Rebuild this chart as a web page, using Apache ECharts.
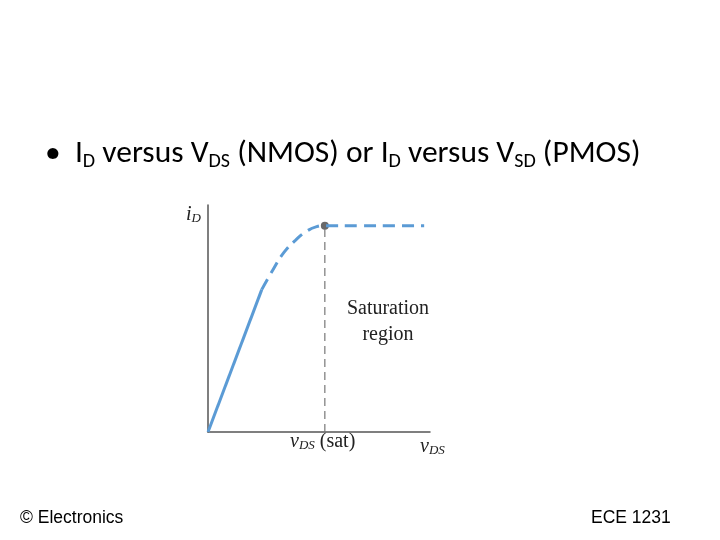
<!DOCTYPE html>
<html><head><meta charset="utf-8">
<script src="https://cdn.jsdelivr.net/npm/echarts@6/dist/echarts.min.js"></script>
<style>html,body{margin:0;background:#fff}#c{width:720px;height:540px}</style>
</head><body><div id="c"></div>
<script>
// x in units of vDS(sat), y in units of iD(sat)
const solidCurve = [[0,0],[0.46,0.69]];
const dashedCurve = [[0.46,0.69],[0.55,0.78],[0.65,0.87],[0.75,0.93],[0.85,0.975],[0.93,0.995],[1,1],[1.3,1],[1.6,1],[1.85,1]];
const satPoint = [[1,1]];
const satLine = [[1,0],[1,1]];

const chart = echarts.init(document.getElementById('c'));
const blue = '#5b9bd5';
const serif = 'Liberation Serif, serif';
chart.setOption({
  animation:false,
  grid:{left:208,top:205,right:290,bottom:108},
  xAxis:{type:'value',min:0,max:1.9,axisLine:{lineStyle:{color:'#555',width:1.5}},axisTick:{show:false},axisLabel:{show:false},splitLine:{show:false}},
  yAxis:{type:'value',min:0,max:1.1,axisLine:{show:true,lineStyle:{color:'#555',width:1.5}},axisTick:{show:false},axisLabel:{show:false},splitLine:{show:false}},
  series:[
    {type:'line',data:satLine,symbol:'none',lineStyle:{color:'#777',width:1.2,type:[8,5]}},
    {type:'line',data:solidCurve,symbol:'none',lineStyle:{color:blue,width:3}},
    {type:'line',data:dashedCurve,symbol:'none',smooth:true,lineStyle:{color:blue,width:3,type:[12,7]}},
    {type:'scatter',data:satPoint,symbolSize:8,itemStyle:{color:'#444'}}
  ],
  graphic:[
    {type:'text',left:45,top:138,style:{rich:{n:{fontSize:31.5,fontFamily:'Carlito, Liberation Sans, sans-serif',fill:'#000'},s:{fontSize:20,fontFamily:'Carlito, Liberation Sans, sans-serif',fill:'#000',padding:[15,0,0,0]}},
      text:'{n|•  I}{s|D}{n| versus V}{s|DS}{n| (NMOS) or I}{s|D}{n| versus V}{s|SD}{n| (PMOS)}'}},
    {type:'text',left:186,top:205,style:{rich:{a:{fontSize:20,fontStyle:'italic',fontFamily:serif,fill:'#222'},b:{fontSize:13,fontStyle:'italic',fontFamily:serif,fill:'#222',padding:[8,0,0,0]}},text:'{a|i}{b|D}'}},
    {type:'text',left:290,top:432,style:{rich:{a:{fontSize:20,fontStyle:'italic',fontFamily:serif,fill:'#222'},b:{fontSize:13,fontStyle:'italic',fontFamily:serif,fill:'#222',padding:[8,0,0,0]},c:{fontSize:20,fontFamily:serif,fill:'#222'}},text:'{a|v}{b|DS}{c| (sat)}'}},
    {type:'text',left:420,top:437,style:{rich:{a:{fontSize:20,fontStyle:'italic',fontFamily:serif,fill:'#222'},b:{fontSize:13,fontStyle:'italic',fontFamily:serif,fill:'#222',padding:[8,0,0,0]}},text:'{a|v}{b|DS}'}},
    {type:'text',x:388,y:296,style:{text:'Saturation\nregion',align:'center',fontSize:20,lineHeight:26,fontFamily:serif,fill:'#222'}},
    {type:'text',left:20,top:509,style:{text:'© Electronics',fontSize:17.5,fontFamily:'Liberation Sans, sans-serif',fill:'#000'}},
    {type:'text',left:591,top:509,style:{text:'ECE 1231',fontSize:17.5,fontFamily:'Liberation Sans, sans-serif',fill:'#000'}}
  ]
});
</script></body></html>
